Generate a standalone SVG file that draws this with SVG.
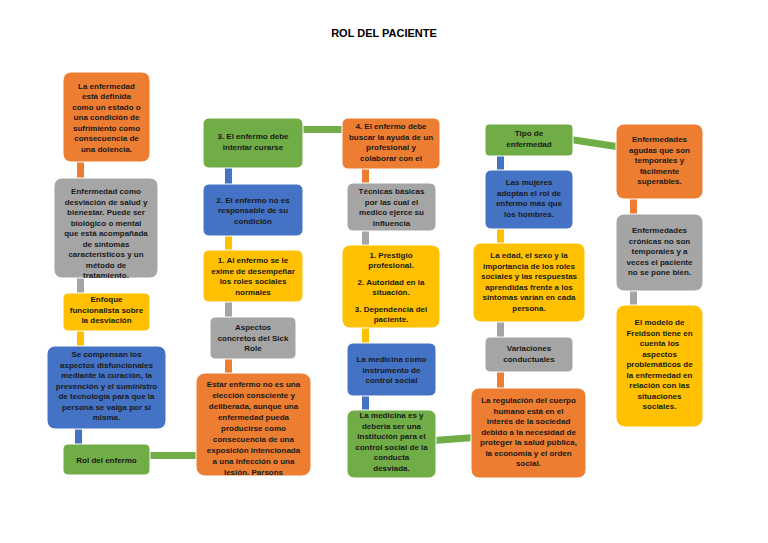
<svg xmlns="http://www.w3.org/2000/svg" width="768" height="543" viewBox="0 0 768 543">
<style>
.o{fill:#ED7D31}.g{fill:#A5A5A5}.y{fill:#FFC000}.b{fill:#4472C4}.gr{fill:#70AD47}
rect.n{stroke:#fff;stroke-width:1}
text{font-family:"Liberation Sans",Arial,sans-serif;font-weight:bold;font-size:8px;fill:#1a1a1a;text-anchor:middle}
.title{font-size:11px;fill:#000}
</style>
<rect width="768" height="543" fill="#fff"/>
<text class="title" x="384" y="37">ROL DEL PACIENTE</text>
<g id="connectors">
<rect class="o" x="77" y="160" width="7" height="20"/>
<rect class="g" x="77" y="276" width="7" height="19"/>
<rect class="y" x="77" y="329" width="7" height="19"/>
<rect class="b" x="75" y="427" width="7" height="19"/>
<rect class="gr" x="148" y="452" width="50" height="7"/>
<rect class="b" x="225" y="166" width="7" height="20"/>
<rect class="y" x="225" y="234" width="7" height="18"/>
<rect class="g" x="225" y="300" width="7" height="19"/>
<rect class="o" x="225" y="357" width="7" height="18"/>
<rect class="gr" x="301" y="126" width="43" height="7"/>
<rect class="o" x="362" y="167" width="7" height="18"/>
<rect class="g" x="362" y="229" width="7" height="18"/>
<rect class="y" x="362" y="326" width="7" height="19"/>
<rect class="b" x="362" y="394" width="7" height="18"/>
<polygon class="gr" points="434,437 474,434 474,441 434,444"/>
<rect class="b" x="497" y="154" width="7" height="18"/>
<rect class="y" x="497" y="227" width="7" height="18"/>
<rect class="g" x="497" y="320" width="7" height="19"/>
<rect class="o" x="497" y="370" width="7" height="20"/>
<polygon class="gr" points="571,136 617,143 616,150 570,143"/>
<rect class="o" x="630" y="197" width="7" height="19"/>
<rect class="g" x="630" y="289" width="7" height="18"/>
</g>
<g id="n1"><rect class="n o" x="63" y="72" width="87" height="90" rx="8"/><text y="88.5"><tspan x="106.5">La enfermedad</tspan><tspan x="106.5" dy="10.5">está definida</tspan><tspan x="106.5" dy="10.5">como un estado o</tspan><tspan x="106.5" dy="10.5">una condición de</tspan><tspan x="106.5" dy="10.5">sufrimiento como</tspan><tspan x="106.5" dy="10.5">consecuencia de</tspan><tspan x="106.5" dy="10.5">una dolencia.</tspan></text></g>
<g id="n2"><rect class="n g" x="54" y="178" width="104" height="100" rx="8"/><text y="194"><tspan x="106">Enfermedad como</tspan><tspan x="106" dy="10.5">desviación de salud y</tspan><tspan x="106" dy="10.5">bienestar. Puede ser</tspan><tspan x="106" dy="10.5">biológico o mental</tspan><tspan x="106" dy="10.5">que está acompañada</tspan><tspan x="106" dy="10.5">de síntomas</tspan><tspan x="106" dy="10.5">característicos y un</tspan><tspan x="106" dy="10.5">método de</tspan><tspan x="106" dy="10.5">tratamiento.</tspan></text></g>
<g id="n3"><rect class="n y" x="63" y="293" width="87" height="38" rx="5"/><text y="302"><tspan x="106.5">Enfoque</tspan><tspan x="106.5" dy="10.5">funcionalista sobre</tspan><tspan x="106.5" dy="10.5">la desviación</tspan></text></g>
<g id="n4"><rect class="n b" x="47" y="346" width="119" height="83" rx="8"/><text y="357"><tspan x="106.5">Se compensan los</tspan><tspan x="106.5" dy="10.5">aspectos disfuncionales</tspan><tspan x="106.5" dy="10.5">mediante la curación, la</tspan><tspan x="106.5" dy="10.5">prevención y el suministro</tspan><tspan x="106.5" dy="10.5">de tecnología para que la</tspan><tspan x="106.5" dy="10.5">persona se valga por si</tspan><tspan x="106.5" dy="10.5">misma.</tspan></text></g>
<g id="n5"><rect class="n gr" x="63" y="444" width="87" height="31" rx="5"/><text x="106.5" y="462.5">Rol del enfermo</text></g>
<g id="n6"><rect class="n gr" x="203" y="118" width="100" height="50" rx="6"/><text y="139"><tspan x="253">3. El enfermo debe</tspan><tspan x="253" dy="11">intentar curarse</tspan></text></g>
<g id="n7"><rect class="n b" x="203" y="184" width="100" height="52" rx="6"/><text y="202.5"><tspan x="253">2. El enfermo no es</tspan><tspan x="253" dy="10.5">responsable de su</tspan><tspan x="253" dy="10.5">condición</tspan></text></g>
<g id="n8"><rect class="n y" x="203" y="250" width="100" height="52" rx="6"/><text y="263"><tspan x="253">1. Al enfermo se le</tspan><tspan x="253" dy="10.5">exime de desempeñar</tspan><tspan x="253" dy="10.5">los roles sociales</tspan><tspan x="253" dy="10.5">normales</tspan></text></g>
<g id="n9"><rect class="n g" x="210" y="317" width="86" height="42" rx="5"/><text y="330"><tspan x="253">Aspectos</tspan><tspan x="253" dy="10.5">concretos del Sick</tspan><tspan x="253" dy="10.5">Role</tspan></text></g>
<g id="n10"><rect class="n o" x="196" y="373" width="115" height="103" rx="9"/><text y="387"><tspan x="253.5">Estar enfermo no es una</tspan><tspan x="253.5" dy="11">elección consciente y</tspan><tspan x="253.5" dy="11">deliberada, aunque una</tspan><tspan x="253.5" dy="11">enfermedad pueda</tspan><tspan x="253.5" dy="11">producirse como</tspan><tspan x="253.5" dy="11">consecuencia de una</tspan><tspan x="253.5" dy="11">exposición intencionada</tspan><tspan x="253.5" dy="11">a una infección o una</tspan><tspan x="253.5" dy="11">lesión. Parsons</tspan></text></g>
<g id="n11"><rect class="n o" x="342" y="118" width="98" height="51" rx="6"/><text y="129"><tspan x="391">4. El enfermo debe</tspan><tspan x="391" dy="10.5">buscar la ayuda de un</tspan><tspan x="391" dy="10.5">profesional y</tspan><tspan x="391" dy="10.5">colaborar con el</tspan></text></g>
<g id="n12"><rect class="n g" x="347" y="183" width="89" height="48" rx="6"/><text y="194"><tspan x="391.5">Técnicas básicas</tspan><tspan x="391.5" dy="10.5">por las cual el</tspan><tspan x="391.5" dy="10.5">medico ejerce su</tspan><tspan x="391.5" dy="10.5">influencia</tspan></text></g>
<g id="n13"><rect class="n y" x="342" y="245" width="98" height="83" rx="8"/><text y="258"><tspan x="391">1. Prestigio</tspan><tspan x="391" dy="10">profesional.</tspan><tspan x="391" dy="17">2. Autoridad en la</tspan><tspan x="391" dy="10">situación.</tspan><tspan x="391" dy="17">3. Dependencia del</tspan><tspan x="391" dy="10">paciente.</tspan></text></g>
<g id="n14"><rect class="n b" x="347" y="343" width="89" height="53" rx="6"/><text y="362"><tspan x="391.5">La medicina como</tspan><tspan x="391.5" dy="10.5">instrumento de</tspan><tspan x="391.5" dy="10.5">control social</tspan></text></g>
<g id="n15"><rect class="n gr" x="347" y="410" width="89" height="68" rx="7"/><text y="418"><tspan x="391.5">La medicina es y</tspan><tspan x="391.5" dy="10.5">debería ser una</tspan><tspan x="391.5" dy="10.5">institución para el</tspan><tspan x="391.5" dy="10.5">control social de la</tspan><tspan x="391.5" dy="10.5">conducta</tspan><tspan x="391.5" dy="10.5">desviada.</tspan></text></g>
<g id="n16"><rect class="n gr" x="485" y="124" width="88" height="32" rx="4"/><text y="136"><tspan x="529">Tipo de</tspan><tspan x="529" dy="11">enfermedad</tspan></text></g>
<g id="n17"><rect class="n b" x="485" y="170" width="88" height="59" rx="6"/><text y="185"><tspan x="529">Las mujeres</tspan><tspan x="529" dy="10.5">adoptan el rol de</tspan><tspan x="529" dy="10.5">enfermo más que</tspan><tspan x="529" dy="10.5">los hombres.</tspan></text></g>
<g id="n18"><rect class="n y" x="473" y="243" width="112" height="79" rx="8"/><text y="258"><tspan x="529">La edad, el sexo y la</tspan><tspan x="529" dy="10.5">importancia de los roles</tspan><tspan x="529" dy="10.5">sociales y las respuestas</tspan><tspan x="529" dy="10.5">aprendidas frente a los</tspan><tspan x="529" dy="10.5">síntomas varían en cada</tspan><tspan x="529" dy="10.5">persona.</tspan></text></g>
<g id="n19"><rect class="n g" x="485" y="337" width="88" height="35" rx="5"/><text y="351"><tspan x="529">Variaciones</tspan><tspan x="529" dy="11">conductuales</tspan></text></g>
<g id="n20"><rect class="n o" x="471" y="388" width="115" height="90" rx="8"/><text y="403"><tspan x="528.5">La regulación del cuerpo</tspan><tspan x="528.5" dy="10.5">humano está en el</tspan><tspan x="528.5" dy="10.5">interés de la sociedad</tspan><tspan x="528.5" dy="10.5">debido a la necesidad de</tspan><tspan x="528.5" dy="10.5">proteger la salud pública,</tspan><tspan x="528.5" dy="10.5">la economía y el orden</tspan><tspan x="528.5" dy="10.5">social.</tspan></text></g>
<g id="n21"><rect class="n o" x="616" y="124" width="87" height="75" rx="8"/><text y="142"><tspan x="659.5">Enfermedades</tspan><tspan x="659.5" dy="10.5">agudas que son</tspan><tspan x="659.5" dy="10.5">temporales y</tspan><tspan x="659.5" dy="10.5">fácilmente</tspan><tspan x="659.5" dy="10.5">superables.</tspan></text></g>
<g id="n22"><rect class="n g" x="616" y="214" width="87" height="77" rx="8"/><text y="233"><tspan x="659.5">Enfermedades</tspan><tspan x="659.5" dy="10.5">crónicas no son</tspan><tspan x="659.5" dy="10.5">temporales y a</tspan><tspan x="659.5" dy="10.5">veces el paciente</tspan><tspan x="659.5" dy="10.5">no se pone bien.</tspan></text></g>
<g id="n23"><rect class="n y" x="616" y="305" width="87" height="122" rx="9"/><text y="325"><tspan x="659.5">El modelo de</tspan><tspan x="659.5" dy="10.5">Freidson tiene en</tspan><tspan x="659.5" dy="10.5">cuenta los</tspan><tspan x="659.5" dy="10.5">aspectos</tspan><tspan x="659.5" dy="10.5">problemáticos de</tspan><tspan x="659.5" dy="10.5">la enfermedad en</tspan><tspan x="659.5" dy="10.5">relación con las</tspan><tspan x="659.5" dy="10.5">situaciones</tspan><tspan x="659.5" dy="10.5">sociales.</tspan></text></g>
</svg>
